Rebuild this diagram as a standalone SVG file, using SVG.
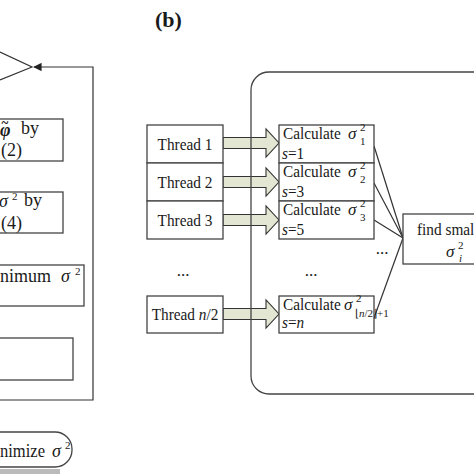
<svg xmlns="http://www.w3.org/2000/svg" width="474" height="474" viewBox="0 0 474 474">
<style>
  text { font-family: "Liberation Serif", "Times New Roman", serif; fill: #1a1a1a; }
  .t { font-size: 17px; }
  .L { font-size: 18px; }
  .it { font-style: italic; }
  .box { fill: #ffffff; stroke: #444444; stroke-width: 1.3; }
  .ln { fill: none; stroke: #333333; stroke-width: 1.2; }
  .blk { fill: #e3e6d2; stroke: #333333; stroke-width: 1.1; }
  .sm { font-size: 11px; }
</style>
<defs>
  <marker id="ah" viewBox="0 0 10 10" refX="9" refY="5" markerWidth="7" markerHeight="7" orient="auto">
    <path d="M0,0 L10,5 L0,10 z" fill="#222222"/>
  </marker>
  <path id="blockArrow" d="M0,-5.5 L43,-5.5 L43,-14 L56,0 L43,14 L43,5.5 L0,5.5 z"/>
</defs>
<rect x="0" y="0" width="474" height="474" fill="#ffffff"/>

<g id="connectors">
  <polyline class="ln" points="0,52 32,67 0,80"/>
  <polyline class="ln" points="0,400 93,400 93,67 34,67" marker-end="url(#ah)"/>
  <use href="#blockArrow" class="blk" x="223" y="143"/>
  <use href="#blockArrow" class="blk" x="223" y="182"/>
  <use href="#blockArrow" class="blk" x="223" y="220"/>
  <use href="#blockArrow" class="blk" x="223" y="314"/>
  <line class="ln" x1="374" y1="146" x2="403" y2="238"/>
  <line class="ln" x1="374" y1="183" x2="403" y2="238"/>
  <line class="ln" x1="374" y1="220" x2="403" y2="238"/>
  <line class="ln" x1="374" y1="318" x2="403" y2="238"/>
</g>

<!-- left panel -->
<g id="box-phi">
  <rect class="box" x="-10" y="119" width="73" height="42"/>
  <text class="L" x="0" y="136" font-weight="bold" font-style="italic">φ<tspan dx="-9" dy="-9" font-size="13" font-style="normal">~</tspan></text>
  <text class="L" x="21" y="134">by</text>
  <text class="L" x="1" y="156">(2)</text>
</g>
<g id="box-sigma">
  <rect class="box" x="-10" y="192" width="73" height="41"/>
  <text class="L it" x="-1" y="207">σ</text>
  <text class="sm" x="12" y="200">2</text>
  <text class="L" x="24" y="206">by</text>
  <text class="L" x="1" y="229">(4)</text>
</g>
<g id="box-minimum">
  <rect class="box" x="-10" y="265" width="94" height="41"/>
  <text class="L" x="0" y="282">nimum</text>
  <text class="L it" x="61" y="282">σ</text>
  <text class="sm" x="75" y="275">2</text>
</g>
<g id="box-empty">
  <rect class="box" x="-10" y="338" width="83" height="42"/>
</g>
<g id="end-minimize">
  <rect x="-40" y="469" width="100" height="5" fill="#bbbbbb"/>
  <rect class="box" x="-40" y="432" width="112" height="35" rx="17" ry="17"/>
  <text class="L" transform="translate(0 457) scale(0.92 1)">nimize</text>
  <text class="L it" x="52" y="457">σ</text>
  <text class="sm" x="65" y="449">2</text>
</g>

<!-- right panel -->
<g id="label-b">
  <text x="155" y="27" font-size="22" font-weight="bold">(b)</text>
</g>
<g id="container">
  <rect x="251" y="72" width="260" height="322" rx="18" ry="18" fill="none" stroke="#444444" stroke-width="1.3"/>
</g>

<g id="thread1">
  <rect class="box" x="147" y="125" width="76" height="38"/>
  <text class="t" transform="translate(185 150) scale(0.9 1)" text-anchor="middle">Thread 1</text>
</g>
<g id="thread2">
  <rect class="box" x="147" y="163" width="76" height="38"/>
  <text class="t" transform="translate(185 188) scale(0.9 1)" text-anchor="middle">Thread 2</text>
</g>
<g id="thread3">
  <rect class="box" x="147" y="201" width="76" height="38"/>
  <text class="t" transform="translate(185 226) scale(0.9 1)" text-anchor="middle">Thread 3</text>
</g>
<g id="thread-dots">
  <text class="t" x="183" y="276" text-anchor="middle">...</text>
</g>
<g id="thread-n2">
  <rect class="box" x="147" y="296" width="76" height="37"/>
  <text class="t" transform="translate(185 320) scale(0.9 1)" text-anchor="middle">Thread <tspan font-style="italic">n</tspan>/2</text>
</g>

<g id="calc1">
  <rect class="box" x="279" y="125" width="95" height="38"/>
  <text class="t" transform="translate(283 139) scale(0.9 1)">Calculate</text>
  <text class="t it" x="348" y="139">σ</text>
  <text class="sm" x="360" y="131">2</text>
  <text class="sm" x="360" y="145">1</text>
  <text class="t" transform="translate(282 159) scale(0.9 1)"><tspan font-style="italic">s</tspan>=1</text>
</g>
<g id="calc2">
  <rect class="box" x="279" y="163" width="95" height="38"/>
  <text class="t" transform="translate(283 177) scale(0.9 1)">Calculate</text>
  <text class="t it" x="348" y="177">σ</text>
  <text class="sm" x="360" y="169">2</text>
  <text class="sm" x="360" y="183">2</text>
  <text class="t" transform="translate(282 197) scale(0.9 1)"><tspan font-style="italic">s</tspan>=3</text>
</g>
<g id="calc3">
  <rect class="box" x="279" y="201" width="95" height="38"/>
  <text class="t" transform="translate(283 215) scale(0.9 1)">Calculate</text>
  <text class="t it" x="348" y="215">σ</text>
  <text class="sm" x="360" y="207">2</text>
  <text class="sm" x="360" y="221">3</text>
  <text class="t" transform="translate(282 235) scale(0.9 1)"><tspan font-style="italic">s</tspan>=5</text>
</g>
<g id="calc-dots">
  <text class="t" x="311" y="276" text-anchor="middle">...</text>
  <text class="t" x="382" y="254" text-anchor="middle">...</text>
</g>
<g id="calc-n">
  <rect class="box" x="279" y="296" width="95" height="37"/>
  <text class="t" transform="translate(283 310) scale(0.9 1)">Calculate</text>
  <text class="t it" x="344" y="310">σ</text>
  <text class="sm" x="356" y="302">2</text>
  <text class="sm" x="355" y="317">⌊<tspan font-style="italic">n</tspan>/2⌋+1</text>
  <text class="t" transform="translate(282 328) scale(0.9 1)"><tspan font-style="italic">s</tspan>=<tspan font-style="italic">n</tspan></text>
</g>

<g id="find-smallest">
  <rect class="box" x="403" y="214" width="100" height="50"/>
  <text class="t" transform="translate(417 235) scale(0.9 1)">find smal</text>
  <text class="t it" x="446" y="257">σ</text>
  <text class="sm" x="458" y="249">2</text>
  <text class="sm it" x="459" y="262">i</text>
</g>
</svg>
